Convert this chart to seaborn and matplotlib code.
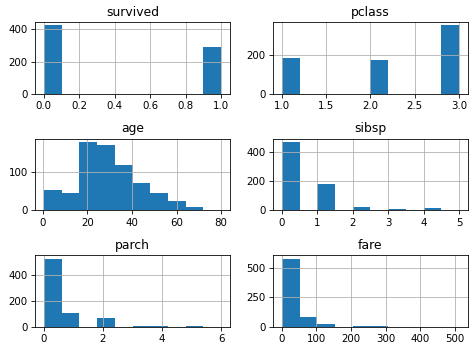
import numpy as np
import pandas as pd
import matplotlib
matplotlib.use("Agg")
import matplotlib.pyplot as plt
import seaborn as sns

# Discrete columns: value -> count
survived_vals = [0, 1]
survived_counts = [424, 290]
pclass_vals = [1, 2, 3]
pclass_counts = [186, 173, 355]
sibsp_vals = [0, 1, 2, 3, 4, 5]
sibsp_counts = [471, 183, 25, 12, 18, 5]
parch_vals = [0, 1, 2, 3, 4, 5, 6]
parch_counts = [521, 110, 68, 5, 4, 5, 1]

# Continuous columns: 10-bin histogram counts over [min, max]
age_range = [0.42, 80.0]
age_counts = [54, 46, 177, 169, 118, 70, 45, 24, 9, 2]
fare_range = [0.0, 512.33]
fare_counts = [578, 87, 26, 0, 10, 10, 0, 0, 0, 1]

color = "#1f77b4"
DPI = 474 / 6.4
fig, axes = plt.subplots(3, 2, figsize=(6.4, 353 / DPI), dpi=DPI)
fig.subplots_adjust(left=35 / 474, right=468 / 474, top=1 - 22 / 353,
                    bottom=1 - 327 / 353, wspace=0.22, hspace=0.625)

def finish(ax, name):
    ax.set_title(name)
    ax.set_xlabel("")
    ax.set_ylabel("")
    ax.grid(True)

def discrete(ax, name, vals, counts):
    data = pd.DataFrame({name: np.repeat(vals, counts)})
    sns.histplot(data=data, x=name, bins=10, ax=ax, color=color,
                 alpha=1, linewidth=0)
    finish(ax, name)

def binned(ax, name, rng, counts):
    edges = np.linspace(rng[0], rng[1], len(counts) + 1)
    centers = (edges[:-1] + edges[1:]) / 2
    data = pd.DataFrame({name: centers, "w": counts})
    sns.histplot(data=data, x=name, weights="w", bins=list(edges), ax=ax,
                 color=color, alpha=1, linewidth=0)
    finish(ax, name)

discrete(axes[0, 0], "survived", survived_vals, survived_counts)
discrete(axes[0, 1], "pclass", pclass_vals, pclass_counts)
binned(axes[1, 0], "age", age_range, age_counts)
discrete(axes[1, 1], "sibsp", sibsp_vals, sibsp_counts)
discrete(axes[2, 0], "parch", parch_vals, parch_counts)
binned(axes[2, 1], "fare", fare_range, fare_counts)

fig.savefig("out.png", dpi=DPI)
